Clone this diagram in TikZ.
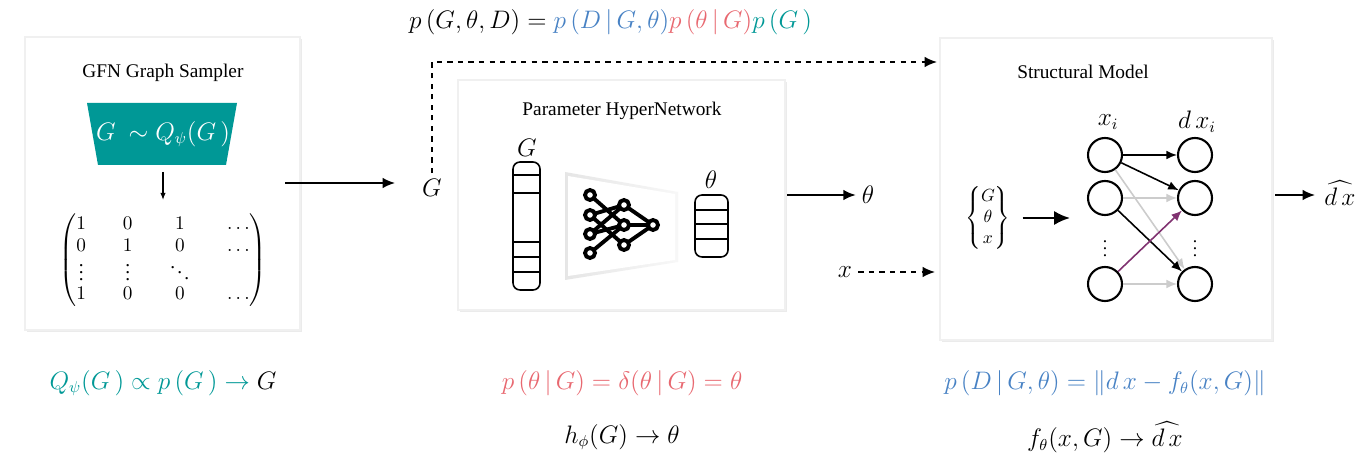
\documentclass[tikz,border=0pt]{standalone}
\usepackage{fontspec}
\setmainfont{Liberation Serif}
\usepackage{amsmath,amssymb}
\usetikzlibrary{arrows.meta,shadows}
\definecolor{teal1}{RGB}{0,152,150}
\definecolor{pink1}{RGB}{232,104,112}
\definecolor{blue1}{RGB}{72,130,196}
\definecolor{purp1}{RGB}{128,50,112}
\newlength{\pxu}\setlength{\pxu}{0.02cm}
\tikzset{
  panel/.style={fill=white,draw=black!6,line width=1pt,general shadow={fill=black!8,shadow xshift=1pt,shadow yshift=-1pt}},
  title/.style={font=\fontsize{11}{13}\selectfont},
  big/.style={font=\fontsize{13.5}{16}\selectfont},
  arr/.style={-{Latex[length=7pt,width=6pt]},line width=1pt},
  vec/.style={draw,line width=0.9pt,rounded corners=4pt},
  neur/.style={circle,draw,line width=1.2pt,minimum size=34\pxu,inner sep=0pt},
  ic/.style={circle,draw,line width=2.2pt,minimum size=10\pxu,inner sep=0pt,fill=white},
}
\begin{document}
\begin{tikzpicture}[x=0.02cm,y=-0.02cm]
\useasboundingbox (0,0) rectangle (1369,462);
% panels
\draw[panel] (25,37) rectangle (300,330);
\draw[panel] (458,80) rectangle (785,310);
\draw[panel] (940,38) rectangle (1272,340);
% panel 1
\node[title] (t1) at (163,73) {GFN Graph Sampler};
\fill[teal1] (87,103) -- (237,103) -- (226,165) -- (98,165) -- cycle;
\node[big,text=white] (samp) at (163,134) {$G\ \sim Q_{\psi}(G\,)$};
\coordinate (sa) at (163,172);
\node[font=\fontsize{11}{13}\selectfont] (mat) at (163,260) {\renewcommand{\arraystretch}{0.95}$\left(\begin{matrix}1 & \quad 0\quad & 1 & \quad\dots\\ 0 & 1 & 0 & \quad\dots\\[-2pt] \vdots & \vdots & \ddots & \\[-2pt] 1 & 0 & 0 & \quad\dots\end{matrix}\right)$};
\draw[-{Latex[length=4pt,width=3pt]},line width=0.6pt] (sa) -- (163,200);
% G
\node[big] (G) at (432,188) {$G$};
\coordinate (s1) at (285,183);
\draw[arr] (s1) -- (395,183);
\coordinate (dtop) at (432,62);
\coordinate (dend) at (937,62);
\draw[arr,dash pattern=on 3pt off 3pt] (G.north) -- (dtop) -- (dend);
% top formula
\node[big,anchor=west] (top) at (403,22) {$p\,(G,\theta,D)=\textcolor{blue1}{p\,(D\,|\,G,\theta)}\textcolor{pink1}{p\,(\theta\,|\,G)}\textcolor{teal1}{p\,(G\,)}$};
% panel 2
\node[title] (t2) at (622,111) {Parameter HyperNetwork};
\node[big] (Gl) at (527,148) {$G$};
\draw[vec] (513,162) rectangle (540,290);
\foreach \y in {175,193,242,257,272} \draw[line width=0.6pt] (513,\y) -- (540,\y);
\shade[left color=black!10,right color=black!3] (565,172) -- (678,192) -- (678,262) -- (565,280) -- cycle;
\fill[white] (568,176) -- (675,194) -- (675,260) -- (568,276) -- cycle;
\node[big] (thl) at (711,180) {$\theta$};
\draw[vec] (695,195) rectangle (728,257);
\foreach \y in {210,224,239} \draw[line width=0.6pt] (695,\y) -- (728,\y);
% network icon
\coordinate (l1) at (590,195); \coordinate (l2) at (590,215); \coordinate (l3) at (590,234); \coordinate (l4) at (590,253);
\coordinate (m1) at (624,205); \coordinate (m2) at (624,225); \coordinate (m3) at (624,245);
\coordinate (o) at (653,225);
\begin{scope}[line width=2.2pt]
\draw (l1) -- (m2); \draw (l2) -- (m1); \draw (l2)--(m3); \draw (l3) -- (m1); \draw (l3)--(m2); \draw (l4) -- (m2);
\draw (m1) -- (o); \draw (m2) -- (o); \draw (m3) -- (o);
\end{scope}
\foreach \c in {l1,l2,l3,l4,m1,m2,m3,o} \node[ic] at (\c) {};
% theta out
\node[big] (th) at (868,195) {$\theta$};
\coordinate (s2) at (787,195);
\draw[arr] (s2) -- (th.west);
\node[big] (x) at (845,272) {$x$};
\coordinate (xe) at (935,272);
\draw[arr,dash pattern=on 3pt off 3pt] (x.east) -- (xe);
% panel 3
\node[title] (t3) at (1083,72) {Structural Model};
\node[font=\fontsize{10}{12}\selectfont] (br) at (988,218) {$\left\{\begin{matrix}G\\ \theta\\ x\end{matrix}\right\}$};
\coordinate (b2) at (1070,218);
\draw[-{Latex[length=9pt,width=8pt]},line width=1.3pt] (br.east) ++(6,0) -- (b2);
\node[big] (xi) at (1108,122) {$x_i$};
\node[big] (dxi) at (1197,122) {$d\,x_i$};
\node[neur] (a1) at (1105,155) {}; \node[neur] (a2) at (1105,198) {}; \node[neur] (a4) at (1105,284) {};
\node[neur] (c1) at (1195,155) {}; \node[neur] (c2) at (1195,198) {}; \node[neur] (c4) at (1195,284) {};
\node (ad) at (1105,243) {$\vdots$}; \node (cd) at (1195,243) {$\vdots$};
\tikzset{na/.style={-{Latex[length=6pt,width=5pt]},line width=0.9pt}}
\draw[na,black!20] (a1) -- (c4);
\draw[na,black!20] (a2) -- (c2);
\draw[na,black!20] (a4) -- (c4);
\draw[na] (a1) -- (c1);
\draw[na] (a1) -- (c2);
\draw[na] (a2) -- (c4);
\draw[na,purp1] (a4) -- (c2);
\node[big] (dx) at (1340,193) {$\widehat{d\,x}$};
\coordinate (s3) at (1275,195);
\draw[arr] (s3) -- (1315,195);
% bottom formulas
\node[big,text=teal1] (f1) at (163,383) {$Q_{\psi}(G\,)\propto p\,(G\,)\rightarrow \textcolor{black}{G}$};
\node[big,text=pink1] (f2) at (622,383) {$p\,(\theta\,|\,G)=\delta(\theta\,|\,G)=\theta$};
\node[big,text=blue1] (f3) at (1105,383) {$p\,(D\,|\,G,\theta)=\|d\,x-f_{\theta}(x,G)\|$};
\node[big] (g2) at (622,437) {$h_{\phi}(G)\rightarrow\theta$};
\node[big] (g3) at (1105,437) {$f_{\theta}(x,G)\rightarrow\widehat{d\,x}$};
\end{tikzpicture}
\end{document}
